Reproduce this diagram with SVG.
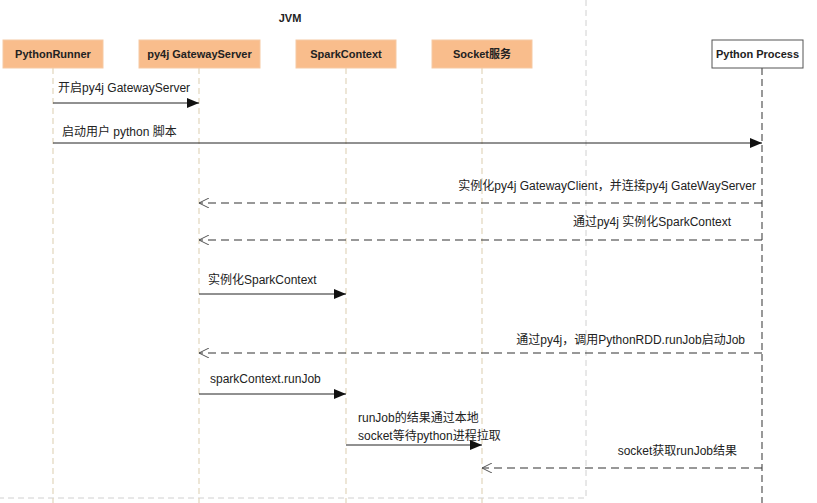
<svg xmlns="http://www.w3.org/2000/svg" width="817" height="503" viewBox="0 0 817 503">
<defs>
<style>
.t{font-family:"Liberation Sans","Noto Sans CJK SC",sans-serif;font-size:12px;fill:#222}
.h{font-family:"Liberation Sans","Noto Sans CJK SC",sans-serif;font-size:11px;font-weight:bold;fill:#222;text-anchor:middle}
.box{fill:#F9BD8C;stroke:#F6C9A3;stroke-width:1}
.life{stroke:#E2D6BC;stroke-width:1.2;stroke-dasharray:6 4;fill:none}
.sync{stroke:#222;stroke-width:1;fill:none;marker-end:url(#fill)}
.ret{stroke:#333;stroke-width:1.2;stroke-dasharray:8 5;fill:none;marker-end:url(#open)}
</style>
<marker id="fill" markerWidth="12" markerHeight="10" refX="12" refY="5" orient="auto" markerUnits="userSpaceOnUse">
<path d="M0,0 L12,5 L0,10 Z" fill="#111"/>
</marker>
<marker id="open" markerWidth="12" markerHeight="10" refX="11" refY="5" orient="auto" markerUnits="userSpaceOnUse">
<path d="M1,0 L11,5 L1,10" fill="none" stroke="#555" stroke-width="1"/>
</marker>
</defs>
<rect width="817" height="503" fill="#fff"/>
<g id="jvm-frame">
<path d="M586,0 L586,498 L0,498" fill="none" stroke="#D0D0D0" stroke-width="1" stroke-dasharray="6 4"/>
<text x="290" y="22" class="h">JVM</text>
</g>
<g id="node-pythonrunner">
<line x1="53" y1="68" x2="53" y2="503" class="life"/>
<rect x="3" y="40" width="100" height="28" class="box"/>
<text x="53" y="58" class="h">PythonRunner</text>
</g>
<g id="node-gateway">
<line x1="199" y1="68" x2="199" y2="503" class="life"/>
<rect x="139" y="40" width="121" height="28" class="box"/>
<text x="199.5" y="58" class="h">py4j GatewayServer</text>
</g>
<g id="node-sparkcontext">
<line x1="346" y1="68" x2="346" y2="503" class="life"/>
<rect x="296" y="40" width="100" height="28" class="box"/>
<text x="346" y="58" class="h">SparkContext</text>
</g>
<g id="node-socket">
<line x1="482" y1="68" x2="482" y2="503" class="life"/>
<rect x="432" y="40" width="100" height="28" class="box"/>
<text x="482" y="58" class="h">Socket服务</text>
</g>
<g id="node-python">
<line x1="762" y1="68" x2="762" y2="503" stroke="#555" stroke-width="1.2" stroke-dasharray="7 4"/>
<rect x="712" y="40" width="91" height="28" fill="#fff" stroke="#555" stroke-width="1"/>
<text x="757.5" y="58" class="h">Python Process</text>
</g>
<g id="connectors">
<line x1="53" y1="103" x2="199" y2="103" class="sync"/>
<line x1="53" y1="143" x2="762" y2="143" class="sync"/>
<line x1="762" y1="203" x2="199" y2="203" class="ret"/>
<line x1="762" y1="240" x2="199" y2="240" class="ret"/>
<line x1="199" y1="294" x2="346" y2="294" class="sync"/>
<line x1="762" y1="353" x2="199" y2="353" class="ret"/>
<line x1="199" y1="394" x2="346" y2="394" class="sync"/>
<line x1="346" y1="445" x2="482" y2="445" class="sync"/>
<line x1="762" y1="468" x2="482" y2="468" class="ret"/>
</g>
<g id="labels">
<text x="58" y="92" class="t">开启py4j GatewayServer</text>
<text x="62" y="136" class="t">启动用户 python 脚本</text>
<text x="756" y="190" class="t" text-anchor="end">实例化py4j GatewayClient，并连接py4j GateWayServer</text>
<text x="731" y="226" class="t" text-anchor="end">通过py4j 实例化SparkContext</text>
<text x="208" y="284" class="t">实例化SparkContext</text>
<text x="745" y="344" class="t" text-anchor="end">通过py4j，调用PythonRDD.runJob启动Job</text>
<text x="210" y="383" class="t">sparkContext.runJob</text>
<text x="358" y="422" class="t">runJob的结果通过本地</text>
<text x="358" y="440" class="t">socket等待python进程拉取</text>
<text x="737" y="455" class="t" text-anchor="end">socket获取runJob结果</text>
</g>
</svg>
